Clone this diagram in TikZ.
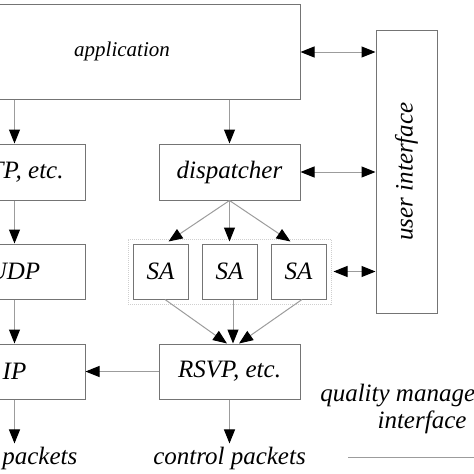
\documentclass[tikz,border=0pt]{standalone}
\usepackage{fontspec}
\setmainfont{Liberation Serif}
\usetikzlibrary{positioning, arrows.meta, calc}
\definecolor{boxgray}{HTML}{747474}
\definecolor{linegray}{HTML}{9C9C9C}
\definecolor{dotgray}{HTML}{CFCFCF}
\newcommand{\boxfont}{\fontsize{25}{27}\selectfont\itshape}

\begin{document}
\begin{tikzpicture}[x=1pt, y=-1pt,
  box/.style={draw=boxgray, line width=1pt, inner sep=0pt, font=\boxfont},
  wide/.style={box, minimum width=141pt, minimum height=56pt},
  sabox/.style={box, minimum width=55pt, minimum height=55pt},
  lbl/.style={inner sep=3pt, font=\boxfont},
  flow/.style={draw=linegray, line width=1pt, -{Triangle[length=14pt, width=11pt, color=black]}},
  both/.style={draw=linegray, line width=1pt, {Triangle[length=14pt, width=11pt, color=black]}-{Triangle[length=14pt, width=11pt, color=black]}}]
  \useasboundingbox (0,0) rectangle (474,474);
  \clip (0,0) rectangle (474,474);

  % boxes
  \node[box, minimum width=356pt, minimum height=95pt, font=\fontsize{21}{24}\selectfont\itshape] (app) at (122,51.5) {application};
  \node[box, minimum width=61pt, minimum height=283pt] (ui) at (406.5,171.5) {};
  \node[rotate=90, font=\boxfont] (uitext) at (ui.center) {user interface};
  \node[wide] (rtp) at (14.5,172) {\hspace*{9pt}RTP, etc.};
  \node[wide] (disp) at (229.5,172) {dispatcher};
  \node[wide, minimum height=55pt] (udp) at (14.5,271.5) {UDP};
  \node[draw=dotgray, densely dotted, line width=1pt, minimum width=203pt, minimum height=65pt] (sagroup) at (229.5,271.5) {};
  \node[sabox] (sa1) at (160.5,271.5) {SA};
  \node[sabox] (sa2) at (229.5,271.5) {SA};
  \node[sabox] (sa3) at (298.5,271.5) {SA};
  \node[wide, minimum height=55pt] (ip) at (14.5,371.5) {IP};
  \node[wide, minimum height=55pt] (rsvp) at (229.5,371.5) {RSVP, etc.};
  \node[lbl, anchor=base] (data) at (14.5,464) {data packets};
  \node[lbl, anchor=base] (ctrl) at (229.5,464) {control packets};
  \node[lbl, align=center] (qmi) at (422,409) {quality management\\interface};

  % connectors
  \draw[flow] (rtp.north |- app.south) -- (rtp.north);
  \draw[flow] (disp.north |- app.south) -- (disp.north);
  \draw[flow] (rtp.south) -- (udp.north);
  \draw[flow] (udp.south) -- (ip.north);
  \draw[flow] (ip.south) -- (data.north);
  \draw[flow] (rsvp.west) -- (ip.east);
  \draw[flow] (rsvp.south) -- (ctrl.north);
  \foreach \s/\dx in {sa1/8, sa2/0, sa3/-8}
    \draw[flow] (disp.south) -- ($(\s.north)+(\dx,-2)$);
  \foreach \s/\a/\b in {sa1/4.5/-2.5, sa2/3.5/3.5, sa3/3.5/9.5}
    \draw[flow] ($(\s.south)+(\a,0)$) -- ($(rsvp.north)+(\b,0)$);
  \draw[both] (app.east |- 0,52) -- (ui.west |- 0,52);
  \draw[both] (disp.east) -- (disp.east -| ui.west);
  \draw[both] ($(sagroup.east)+(2,0)$) -- (sagroup.east -| ui.west);

  % legend line
  \draw[draw=linegray, line width=1pt] (348,457) -- (496,457);
\end{tikzpicture}
\end{document}
